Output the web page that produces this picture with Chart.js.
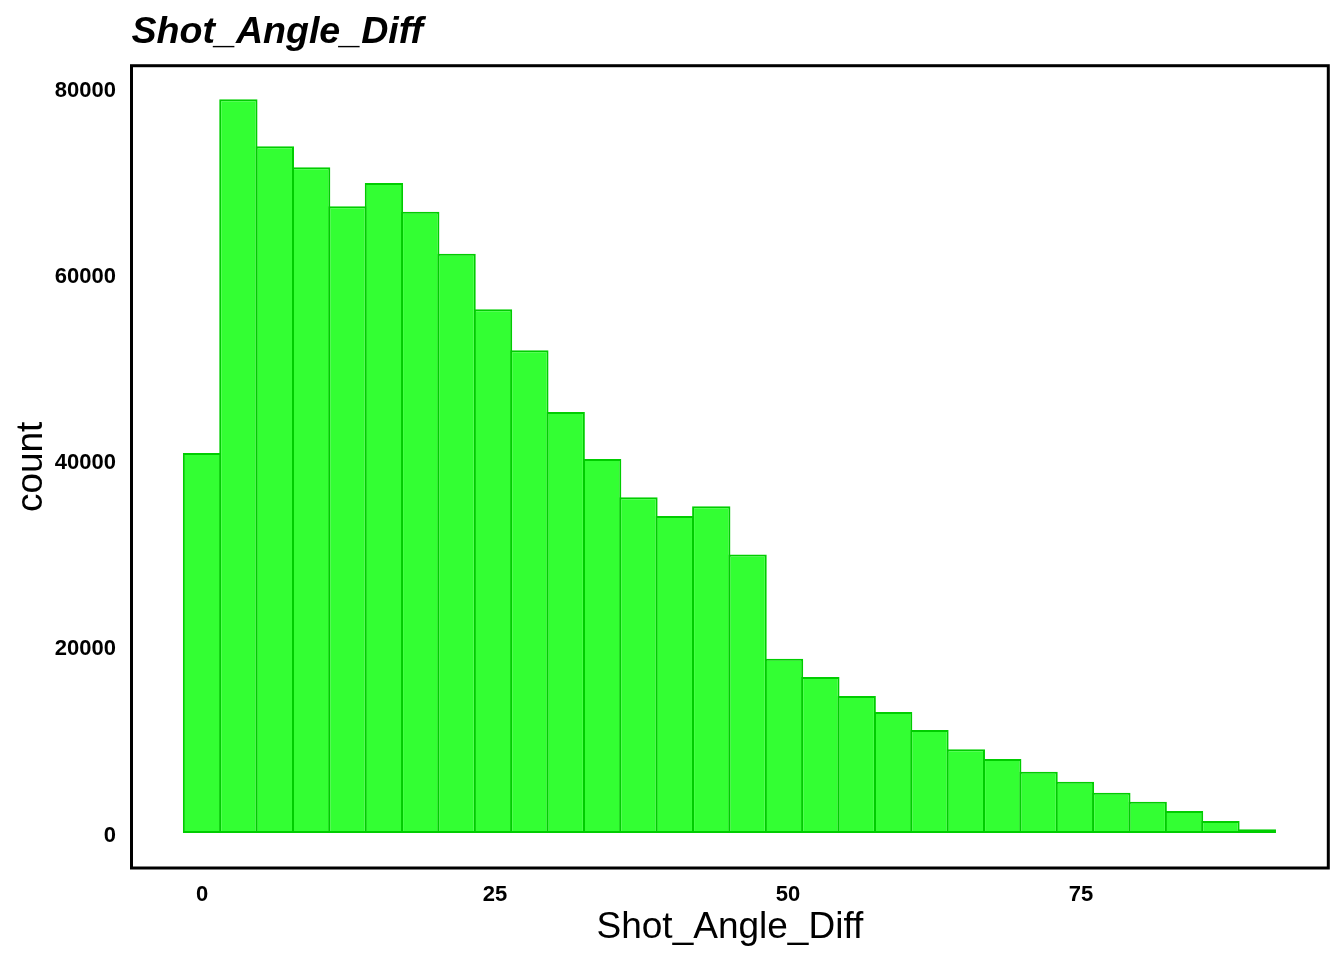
<!DOCTYPE html>
<html>
<head>
<meta charset="utf-8">
<script src="https://cdn.jsdelivr.net/npm/chart.js@4/dist/chart.umd.min.js"></script>
<style>
  html, body { margin: 0; padding: 0; background: #ffffff; }
  #wrap { width: 1344px; height: 960px; }
</style>
</head>
<body>
<div id="wrap"><canvas id="c" width="1344" height="960"></canvas></div>
<script>
// ---- data ----
const chartTitle = "Shot_Angle_Diff";
const xAxisTitle = "Shot_Angle_Diff";
const yAxisTitle = "count";
const binCenters = [0, 3.10, 6.21, 9.31, 12.41, 15.52, 18.62, 21.72, 24.83, 27.93,
                    31.03, 34.14, 37.24, 40.34, 43.45, 46.55, 49.66, 52.76, 55.86, 58.97,
                    62.07, 65.17, 68.28, 71.38, 74.48, 77.59, 80.69, 83.79, 86.90, 90.00];
const counts = [40800, 78800, 73750, 71500, 67300, 69800, 66700, 62200, 56250, 51850,
                45200, 40150, 36050, 34050, 35100, 29900, 18700, 16750, 14700, 13000,
                11050, 9000, 7950, 6580, 5500, 4320, 3350, 2360, 1280, 390];
const xTickValues = [0, 25, 50, 75];
const yTickValues = [0, 20000, 40000, 60000, 80000];

const FONT = "'Liberation Sans', Arial, Helvetica, sans-serif";

const panelBorder = {
  id: 'panelBorder',
  afterDatasetsDraw(chart) {
    const {ctx, chartArea: a} = chart;
    ctx.save();
    ctx.strokeStyle = '#000000';
    ctx.lineWidth = 3;
    ctx.strokeRect(a.left, a.top, a.right - a.left, a.bottom - a.top);
    ctx.restore();
  }
};

new Chart(document.getElementById('c'), {
  type: 'bar',
  data: {
    datasets: [{
      data: binCenters.map((x, i) => ({x: x, y: counts[i]})),
      backgroundColor: '#33FF33',
      borderColor: '#00CD00',
      borderWidth: 2,
      borderSkipped: false,
      inflateAmount: 0,
      barPercentage: 1.055,
      categoryPercentage: 1
    }]
  },
  plugins: [panelBorder],
  options: {
    responsive: false,
    animation: false,
    devicePixelRatio: 1,
    layout: { padding: { left: 0, right: 15.7, top: 0, bottom: 0 } },
    plugins: {
      legend: { display: false },
      tooltip: { enabled: false },
      title: {
        display: true,
        text: chartTitle,
        align: 'start',
        fullSize: false,
        color: '#000000',
        font: { family: FONT, size: 37.6, weight: 'bold', style: 'italic', lineHeight: 1.2 },
        padding: { top: 9.8, bottom: 10.8 }
      }
    },
    scales: {
      x: {
        type: 'linear',
        offset: false,
        min: -6.02,
        max: 96.1,
        grid: { display: false, drawTicks: false },
        border: { display: false },
        afterBuildTicks: (axis) => { axis.ticks = xTickValues.map(v => ({value: v})); },
        afterFit: (axis) => { axis.height = 92; },
        ticks: {
          color: '#000000',
          padding: 13.7,
          maxRotation: 0,
          autoSkip: false,
          font: { family: FONT, size: 22, weight: 'bold', lineHeight: 1.2 },
          callback: (v) => String(v)
        },
        title: {
          display: true,
          text: xAxisTitle,
          color: '#000000',
          font: { family: FONT, size: 37, weight: 'normal', lineHeight: 1.2 },
          padding: { top: 0, bottom: 9.8 }
        }
      },
      y: {
        type: 'linear',
        min: -3758,
        max: 82393,
        grid: { display: false, drawTicks: false },
        border: { display: false },
        afterBuildTicks: (axis) => { axis.ticks = yTickValues.map(v => ({value: v})); },
        afterFit: (axis) => { axis.width = 131.5; },
        ticks: {
          color: '#000000',
          padding: 15.5,
          labelOffset: 2.5,
          autoSkip: false,
          font: { family: FONT, size: 22, weight: 'bold', lineHeight: 1.2 },
          callback: (v) => String(v)
        },
        title: {
          display: true,
          text: yAxisTitle,
          color: '#000000',
          font: { family: FONT, size: 37, weight: 'normal', lineHeight: 1.2 },
          padding: { top: 9.5, bottom: 0 }
        }
      }
    }
  }
});
</script>
</body>
</html>
